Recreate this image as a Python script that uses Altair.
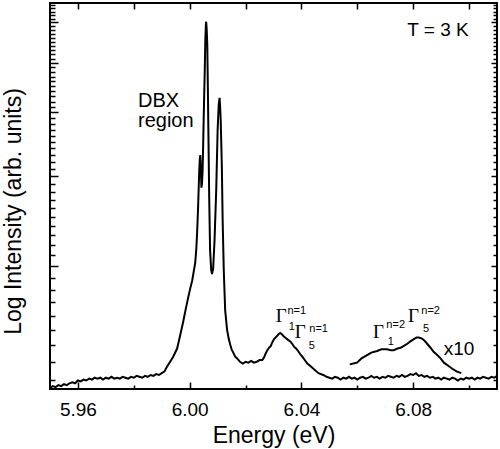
import altair as alt
import pandas as pd

FONT = "Liberation Sans"
SERIF = "Liberation Serif"

# ---- main spectrum (Energy in eV, intensity in arb. units, log axis) ----
energy = [
    5.950, 5.951, 5.952, 5.953, 5.954, 5.955, 5.956, 5.957, 5.958, 5.959,
    5.960, 5.961, 5.962, 5.963, 5.964, 5.965, 5.966, 5.967, 5.968, 5.969,
    5.970, 5.971, 5.972, 5.973, 5.974, 5.975, 5.976, 5.977, 5.978, 5.979,
    5.980, 5.981, 5.982, 5.983, 5.984, 5.985, 5.986, 5.987, 5.988, 5.989,
    5.990, 5.991, 5.992, 5.993, 5.9941, 5.9955, 5.9966, 5.9976, 5.9986, 5.9994,
    6.0002, 6.0009, 6.0015, 6.0020, 6.0024, 6.0027, 6.0030, 6.0032, 6.0034, 6.0036,
    6.0038, 6.0040, 6.0042, 6.0044, 6.0046, 6.0048, 6.0050, 6.0052, 6.0054, 6.0056,
    6.0058, 6.0059, 6.0061, 6.0063, 6.0065, 6.0067, 6.0070, 6.0073, 6.0077, 6.0080,
    6.0084, 6.0089, 6.0095, 6.0100, 6.0104, 6.0107, 6.0109, 6.0111, 6.0115, 6.0118,
    6.0122, 6.0127, 6.0134, 6.0140, 6.0145, 6.0150, 6.0156, 6.0163, 6.0170, 6.0180,
    6.0190, 6.0200, 6.0210, 6.0220, 6.0230, 6.0240, 6.0250, 6.0260, 6.0266, 6.0272,
    6.0278, 6.0284, 6.0290, 6.0296, 6.0302, 6.0310, 6.0317, 6.0324, 6.0331, 6.0338,
    6.0345, 6.0352, 6.0360, 6.0367, 6.0374, 6.0381, 6.0388, 6.0396, 6.0403, 6.0410,
    6.0421, 6.0432, 6.0446, 6.0461, 6.0478, 6.0490, 6.0500,
    6.051, 6.052, 6.053, 6.054, 6.055, 6.056, 6.057, 6.058, 6.059, 6.060,
    6.061, 6.062, 6.063, 6.064, 6.065, 6.066, 6.067, 6.068, 6.069, 6.070,
    6.071, 6.072, 6.073, 6.074, 6.075, 6.076, 6.077, 6.078, 6.079, 6.080,
    6.081, 6.082, 6.083, 6.084, 6.085, 6.086, 6.087, 6.088, 6.089, 6.090,
    6.091, 6.092, 6.093, 6.094, 6.095, 6.096, 6.097, 6.098, 6.099, 6.100,
    6.101, 6.102, 6.103, 6.104, 6.105, 6.106, 6.107, 6.108, 6.109, 6.110,
]
intensity = [
    2.31, 2.33, 2.32, 2.34, 2.33, 2.35, 2.34, 2.36, 2.37, 2.36,
    2.39, 2.38, 2.40, 2.39, 2.41, 2.40, 2.42, 2.41, 2.42, 2.40,
    2.42, 2.41, 2.43, 2.41, 2.42, 2.41, 2.43, 2.42, 2.41, 2.43,
    2.42, 2.44, 2.43, 2.42, 2.44, 2.43, 2.45, 2.44, 2.46, 2.45,
    2.47, 2.49, 2.55, 2.60, 2.66, 2.76, 2.93, 3.10, 3.30, 3.46,
    3.62, 3.75, 3.92, 4.07, 4.35, 4.71, 5.20, 5.64, 6.10, 6.46,
    6.60, 6.20, 5.70, 5.80, 6.10, 6.80, 7.73, 8.70, 9.69, 11.10,
    11.90, 12.04, 11.60, 10.85, 9.00, 7.30, 5.39, 4.30, 3.93, 3.86,
    3.96, 4.50, 5.64, 7.39, 8.30, 8.54, 8.20, 7.73, 6.31, 4.92,
    3.93, 3.28, 3.00, 2.88, 2.81, 2.75, 2.71, 2.66, 2.64, 2.60,
    2.58, 2.60, 2.59, 2.61, 2.59, 2.60, 2.62, 2.62, 2.65, 2.70,
    2.74, 2.77, 2.79, 2.84, 2.88, 2.91, 2.94, 2.96, 2.94, 2.91,
    2.89, 2.87, 2.85, 2.82, 2.78, 2.76, 2.73, 2.69, 2.66, 2.63,
    2.58, 2.55, 2.51, 2.47, 2.45, 2.43, 2.42,
    2.41, 2.43, 2.42, 2.40, 2.42, 2.41, 2.43, 2.41, 2.42, 2.40,
    2.42, 2.43, 2.41, 2.42, 2.44, 2.42, 2.43, 2.41, 2.43, 2.42,
    2.44, 2.43, 2.42, 2.44, 2.43, 2.45, 2.43, 2.44, 2.46, 2.45,
    2.47, 2.44, 2.45, 2.43, 2.44, 2.42, 2.43, 2.41, 2.42, 2.40,
    2.42, 2.41, 2.40, 2.42, 2.41, 2.39, 2.41, 2.40, 2.42, 2.41,
    2.42, 2.40, 2.42, 2.41, 2.43, 2.42, 2.41, 2.43, 2.42, 2.44,
]

# ---- x10 magnified segment ----
x10_energy = [
    6.0573, 6.0586, 6.0599, 6.0615, 6.0635, 6.0650, 6.0671, 6.0686, 6.0707, 6.0719,
    6.0730, 6.0744, 6.0755, 6.0765, 6.0779, 6.0790, 6.0802, 6.0812, 6.0820, 6.0830,
    6.0838, 6.0850, 6.0862, 6.0873, 6.0886, 6.0898, 6.0910, 6.0923, 6.0940, 6.0955,
    6.0972,
]
x10_intensity = [
    2.57, 2.58, 2.59, 2.64, 2.68, 2.71, 2.73, 2.75, 2.75, 2.74,
    2.74, 2.76, 2.77, 2.79, 2.82, 2.85, 2.88, 2.90, 2.90, 2.89,
    2.87, 2.82, 2.77, 2.72, 2.68, 2.64, 2.59, 2.56, 2.52, 2.49,
    2.47,
]

# ---- annotations ----
big_text = ["DBX", "region"]
big_e = [5.9815, 5.9815]
big_i = [8.20, 7.49]

mid_text = ["T = 3 K", "x10"]
mid_e = [6.0779, 6.0909]
mid_i = [11.30, 2.68]

gamma_text = ["\u0393", "\u0393", "\u0393", "\u0393"]
gamma_e = [6.0308, 6.0376, 6.0656, 6.0781]
gamma_i = [3.11, 2.89, 2.90, 3.11]

script_text = ["n=1", "1", "n=1", "5", "n=2", "1", "n=2", "5"]
script_e = [6.0350, 6.0355, 6.0428, 6.0426, 6.0704, 6.0709, 6.0829, 6.0835]
script_i = [3.23, 3.00, 2.98, 2.76, 3.03, 2.80, 3.22, 2.97]

# ---- axis ticks ----
x_major = [5.96, 6.00, 6.04, 6.08]
x_minor = [5.98, 6.02, 6.06, 6.10]
x_top = [5.96, 5.98, 6.00, 6.02, 6.04, 6.06, 6.08, 6.10]
y_major = [4, 6, 8, 10, 12]
y_minor = [2.4, 2.6, 2.8, 3.0, 3.2, 3.4, 3.6, 3.8, 4.2, 4.4, 4.6, 4.8, 5.0, 5.2,
           5.4, 5.6, 5.8, 6.2, 6.4, 6.6, 6.8, 7.0, 7.2, 7.4, 7.6, 7.8, 8.2, 8.4,
           8.6, 8.8, 9.0, 9.2, 9.4, 9.6, 9.8, 10.2, 10.4, 10.6, 10.8, 11.0, 11.2,
           11.4, 11.6, 11.8, 12.2, 12.4, 12.6, 12.8, 13.0]
x_domain = [5.95, 6.11]
y_domain = [2.3, 13.1]

df_main = pd.DataFrame({"E": energy, "I": intensity})
df_x10 = pd.DataFrame({"E": x10_energy, "I": x10_intensity})
df_big = pd.DataFrame({"E": big_e, "I": big_i, "t": big_text})
df_mid = pd.DataFrame({"E": mid_e, "I": mid_i, "t": mid_text})
df_gam = pd.DataFrame({"E": gamma_e, "I": gamma_i, "t": gamma_text})
df_scr = pd.DataFrame({"E": script_e, "I": script_i, "t": script_text})

xs = alt.Scale(domain=x_domain, nice=False, zero=False)
ys = alt.Scale(type="log", domain=y_domain, nice=False)


def tick_axis(orient, values, size, **kw):
    base = dict(orient=orient, values=values, tickSize=size, offset=-size,
                domain=False, grid=False, labels=False, title=None,
                tickColor="black", tickWidth=1.5, minExtent=0)
    base.update(kw)
    return alt.Axis(**base)


ax_bottom_major = tick_axis(
    "bottom", x_major, 7, labels=True, format=".2f", labelFont=FONT,
    labelFontSize=19, labelPadding=11, labelColor="black",
    title="Energy (eV)", titleFont=FONT, titleFontSize=23,
    titleFontWeight="normal", titlePadding=5, titleColor="black")
ax_bottom_minor = tick_axis("bottom", x_minor, 4)
ax_top = tick_axis("top", x_top, 6)
ax_left_major = tick_axis(
    "left", y_major, 8, title="Log Intensity (arb. units)", titleFont=FONT,
    titleFontSize=23, titleFontWeight="normal", titlePadding=24,
    titleColor="black", titleY=208)
ax_left_minor = tick_axis("left", y_minor, 5)
ax_right_major = tick_axis("right", y_major, 6)
ax_right_minor = tick_axis("right", y_minor, 4)

main = alt.Chart(df_main).mark_line(color="black", strokeWidth=2).encode(
    x=alt.X("E:Q", scale=xs, axis=ax_bottom_major),
    y=alt.Y("I:Q", scale=ys, axis=ax_left_major),
)
x10 = alt.Chart(df_x10).mark_line(color="black", strokeWidth=2).encode(
    x=alt.X("E:Q", scale=xs, axis=ax_bottom_minor),
    y=alt.Y("I:Q", scale=ys, axis=ax_left_minor),
)
big = alt.Chart(df_big).mark_text(align="left", baseline="alphabetic", font=FONT,
                                   fontSize=20, color="black").encode(
    x=alt.X("E:Q", scale=xs, axis=ax_top),
    y=alt.Y("I:Q", scale=ys, axis=ax_right_major),
    text="t:N",
)
mid = alt.Chart(df_mid).mark_text(align="left", baseline="alphabetic", font=FONT,
                                   fontSize=19, color="black").encode(
    x=alt.X("E:Q", scale=xs, axis=None),
    y=alt.Y("I:Q", scale=ys, axis=ax_right_minor),
    text="t:N",
)
gam = alt.Chart(df_gam).mark_text(align="left", baseline="alphabetic", font=SERIF,
                                   fontSize=19, color="black").encode(
    x=alt.X("E:Q", scale=xs, axis=None),
    y=alt.Y("I:Q", scale=ys, axis=None),
    text="t:N",
)
scr = alt.Chart(df_scr).mark_text(align="left", baseline="alphabetic", font=FONT,
                                   fontSize=11, color="black").encode(
    x=alt.X("E:Q", scale=xs, axis=None),
    y=alt.Y("I:Q", scale=ys, axis=None),
    text="t:N",
)

chart = alt.layer(main, x10, big, mid, gam, scr).resolve_axis(
    x="independent", y="independent"
).properties(
    width=447, height=386,
    autosize=alt.AutoSizeParams(type="none"),
    padding={"left": 50, "top": 3, "right": 3, "bottom": 60},
    background="white",
).configure_view(stroke="black", strokeWidth=2)

chart.save("out.html", embed_options={"renderer": "svg", "actions": False})
